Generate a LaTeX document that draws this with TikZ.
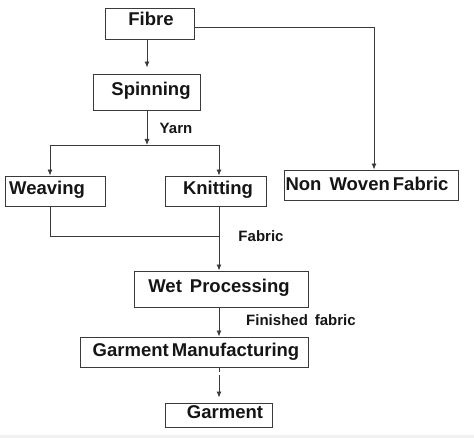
\documentclass[tikz,border=0pt]{standalone}
\usepackage{fontspec}
\setmainfont{Liberation Sans}
\usetikzlibrary{arrows.meta}
\definecolor{ln}{HTML}{3A3A3A}
\definecolor{tx}{HTML}{151515}
\tikzset{
  box/.style={draw=ln, line width=0.9pt, fill=none, inner sep=0pt, minimum width=#1},
  boxtext/.style={text=tx, font=\fontsize{18.5}{21}\selectfont\bfseries, inner sep=0pt, anchor=center},
  lbl/.style={text=tx, font=\fontsize{15}{17}\selectfont\bfseries, inner sep=0pt, anchor=center},
  conn/.style={draw=ln, line width=0.9pt},
  arr/.style={conn, -{Latex[length=6pt,width=5pt]}}
}
\begin{document}
\begin{tikzpicture}[x=1pt,y=-1pt]
\useasboundingbox (0,0) rectangle (474,438);
\fill[black!6] (0,435) rectangle (474,438);
% boxes
\node[box=89pt, minimum height=31pt] (fibre) at (149.5,23.5) {};
\node[box=107pt, minimum height=36pt] (spin) at (146.5,92) {};
\node[box=100pt, minimum height=30pt] (weav) at (55,191) {};
\node[box=101pt, minimum height=30pt] (knit) at (215.5,191) {};
\node[box=174pt, minimum height=30pt] (nonw) at (371,185) {};
\node[box=174pt, minimum height=36pt] (wet) at (221,289) {};
\node[box=228pt, minimum height=30pt] (gm) at (194,352) {};
\node[box=107pt, minimum height=24pt] (garm) at (218.5,415) {};
% texts
\node[boxtext] (tfibre) at (151,19) {Fibre};
\node[boxtext] (tspin) at (151,91) {Spinning};
\node[boxtext, anchor=west] (tweav) at (9,190) {Weaving};
\node[boxtext] (tknit) at (218,190) {Knitting};
\node[boxtext] (tnonw) at (367,184) {Non\hspace{8pt}Woven\,Fabric};
\node[boxtext] (twet) at (219,288) {Wet\hspace{8pt}Processing};
\node[boxtext] (tgm) at (196,352) {Garment\,Manufacturing};
\node[boxtext] (tgarm) at (225,412) {Garment};
% labels
\node[lbl] (yarn) at (176,128) {Yarn};
\node[lbl] (fab) at (261,236) {Fabric};
\node[lbl] (ffab) at (301,320) {Finished\hspace{7pt}fabric};
% junctions
\coordinate (j1) at (147,145);
\coordinate (jl) at (50,145);
\coordinate (jr) at (219,145);
\coordinate (jnw) at (374,27);
\coordinate (jw) at (50,236);
\coordinate (jk) at (219,236);
% connectors
\draw[arr, shorten >=6pt] (fibre.south -| j1) -- (spin.north -| j1);
\draw[arr] (spin.south -| j1) -- (j1);
\draw[conn] (jl) -- (jr);
\draw[arr] (jl) -- (weav.north -| jl);
\draw[arr] (jr) -- (knit.north -| jr);
\draw[arr] (fibre.east |- jnw) -- (jnw) -- (nonw.north -| jnw);
\draw[conn] (weav.south -| jw) -- (jw) -- (jk);
\draw[arr] (knit.south -| jk) -- (wet.north -| jk);
\draw[arr] (wet.south -| jk) -- (gm.north -| jk);
\draw[arr, shorten >=5pt, dash pattern=on 5pt off 3pt on 40pt] (gm.south -| jk) -- (garm.north -| jk);
\end{tikzpicture}
\end{document}
